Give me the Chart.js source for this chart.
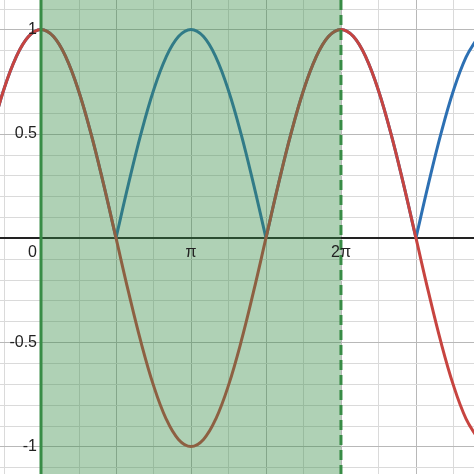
<!DOCTYPE html>
<html><head><meta charset="utf-8">
<script src="https://cdn.jsdelivr.net/npm/chart.js@4"></script>
<style>html,body{margin:0;padding:0;background:#fff}#w{width:474px;height:474px}</style>
</head><body><div id="w"><canvas id="c"></canvas></div>
<script>
const xDeg = [-60,-45,-30,-15,0,15,30,45,60,75,90,105,120,135,150,165,180,195,210,225,240,255,270,285,300,315,330,345,360,375,390,405,420,435,450,465,480,495,510,525];
const cosVals = [0.5,0.707,0.866,0.966,1,0.966,0.866,0.707,0.5,0.259,0,-0.259,-0.5,-0.707,-0.866,-0.966,-1,-0.966,-0.866,-0.707,-0.5,-0.259,0,0.259,0.5,0.707,0.866,0.966,1,0.966,0.866,0.707,0.5,0.259,0,-0.259,-0.5,-0.707,-0.866,-0.966];
const xTickLabels = ['0','π','2π'];
const yTickLabels = ['1','0.5','-0.5','-1'];
const yTickVals = [1,0.5,-0.5,-1];
const shadeFrom = 0, shadeTo = 2*Math.PI;
const R = Math.PI/180;

const redPts = xDeg.map((d,i)=>({x:d*R,y:cosVals[i]}));
const bluePts = [];
xDeg.forEach((d,i)=>{
  bluePts.push({x:d*R,y:Math.abs(cosVals[i])});
  if (cosVals[i]===0 && i>0 && i<xDeg.length-1){ bluePts.push({x:d*R,y:null}); bluePts.push({x:d*R,y:0}); }
});

const bg = {id:'bg', beforeDatasetsDraw(ch){
  const {ctx,chartArea:a,scales:{x,y}} = ch;
  ctx.save();
  for(let k=-10;k<=20;k++){ const px=x.getPixelForValue(k*Math.PI/4); if(px<a.left-1||px>a.right+1) continue;
    ctx.strokeStyle = (k%2===0)?'#b8b8b8':'#dadada'; ctx.lineWidth=1; ctx.beginPath(); ctx.moveTo(Math.round(px)+0.5,a.top); ctx.lineTo(Math.round(px)+0.5,a.bottom); ctx.stroke();}
  for(let k=-12;k<=12;k++){ const py=y.getPixelForValue(k/10);
    ctx.strokeStyle = (k%5===0)?'#b8b8b8':'#dadada'; ctx.beginPath(); ctx.moveTo(a.left,Math.round(py)+0.5); ctx.lineTo(a.right,Math.round(py)+0.5); ctx.stroke();}
  ctx.strokeStyle='#222'; ctx.lineWidth=2;
  const y0=y.getPixelForValue(0), x0=x.getPixelForValue(0);
  ctx.beginPath(); ctx.moveTo(a.left,y0); ctx.lineTo(a.right,y0); ctx.stroke();
  ctx.beginPath(); ctx.moveTo(x0,a.top); ctx.lineTo(x0,a.bottom); ctx.stroke();
  ctx.restore();
}, afterDatasetsDraw(ch){
  const {ctx,chartArea:a,scales:{x,y}} = ch;
  const x1=x.getPixelForValue(shadeFrom), x2=x.getPixelForValue(shadeTo);
  ctx.save();
  ctx.fillStyle='rgba(56,140,70,0.4)'; ctx.fillRect(x1,a.top,x2-x1,a.bottom-a.top);
  ctx.strokeStyle='#388c46'; ctx.lineWidth=3;
  ctx.beginPath(); ctx.moveTo(x1,a.top); ctx.lineTo(x1,a.bottom); ctx.stroke();
  ctx.setLineDash([10,5]); ctx.beginPath(); ctx.moveTo(x2,a.top); ctx.lineTo(x2,a.bottom); ctx.stroke();
  ctx.setLineDash([]);
  ctx.fillStyle='#222'; ctx.font='16px "Liberation Sans", Arial, sans-serif'; ctx.textBaseline='middle';
  const y0=y.getPixelForValue(0);
  ctx.textAlign='right'; ctx.fillText(xTickLabels[0], x.getPixelForValue(0)-4, y0+15);
  ctx.textAlign='center';
  ctx.fillText(xTickLabels[1], x.getPixelForValue(Math.PI), y0+15);
  ctx.fillText(xTickLabels[2], x.getPixelForValue(2*Math.PI), y0+15);
  ctx.textAlign='right';
  yTickVals.forEach((v,i)=>ctx.fillText(yTickLabels[i], x.getPixelForValue(0)-4, y.getPixelForValue(v)));
  ctx.restore();
}};

new Chart(document.getElementById('c'), {
  type:'line',
  data:{datasets:[
    {data:redPts, borderColor:'#c74440', borderWidth:3, pointRadius:0, tension:0.4, spanGaps:false},
    {data:bluePts, borderColor:'#2d70b3', borderWidth:3, pointRadius:0, tension:0.4, spanGaps:false}
  ]},
  options:{responsive:true, maintainAspectRatio:false, animation:false, layout:{padding:0},
    plugins:{legend:{display:false}, tooltip:{enabled:false}},
    scales:{x:{type:'linear', min:-0.859, max:9.07, display:false},
            y:{type:'linear', min:-1.132, max:1.141, display:false}}},
  plugins:[bg]
});
</script></body></html>
